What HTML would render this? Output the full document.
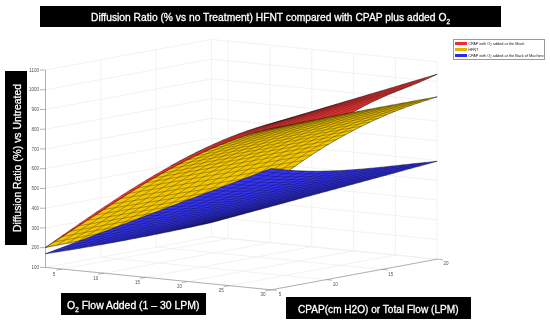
<!DOCTYPE html>
<html><head><meta charset="utf-8"><style>
html,body{margin:0;padding:0;background:#fff;width:550px;height:326px;overflow:hidden;position:relative}
.tk{font-family:"Liberation Sans",sans-serif;font-size:4.5px;fill:#505050}
.box{position:absolute;background:#000;color:#fff;font-family:"Liberation Sans",sans-serif;white-space:nowrap}
#title{left:39.7px;top:5.6px;width:461.5px;height:21.7px}
#ylab{left:5px;top:71px;width:22px;height:174px}
#xlab{left:61px;top:293px;width:145px;height:22px}
#clab{left:286px;top:297px;width:185px;height:22px}
.box span{position:absolute;font-size:11.3px;line-height:1;-webkit-text-stroke:0.3px #fff}
#legend{position:absolute;left:452.6px;top:39.2px;width:92.1px;height:20.4px;border:0.6px solid #9a9a9a;background:#fff;box-sizing:border-box}
.sw{position:absolute;left:1.2px;width:12.6px;height:3.3px}
.lt{position:absolute;left:14.6px;font-family:"Liberation Sans",sans-serif;font-size:3.85px;color:#222;white-space:nowrap;line-height:1}
.lt sub{font-size:2.6px;vertical-align:-0.8px}
</style></head><body>
<svg width="550" height="326" viewBox="0 0 550 326" style="position:absolute;left:0;top:0">
<g><line x1="45.50" y1="267.40" x2="211.50" y2="236.80" stroke="#efefef" stroke-width="0.8"/>
<line x1="211.50" y1="236.80" x2="437.20" y2="259.20" stroke="#efefef" stroke-width="0.8"/>
<line x1="45.50" y1="247.66" x2="211.50" y2="217.06" stroke="#efefef" stroke-width="0.8"/>
<line x1="211.50" y1="217.06" x2="437.20" y2="239.46" stroke="#efefef" stroke-width="0.8"/>
<line x1="45.50" y1="227.92" x2="211.50" y2="197.32" stroke="#efefef" stroke-width="0.8"/>
<line x1="211.50" y1="197.32" x2="437.20" y2="219.72" stroke="#efefef" stroke-width="0.8"/>
<line x1="45.50" y1="208.18" x2="211.50" y2="177.58" stroke="#efefef" stroke-width="0.8"/>
<line x1="211.50" y1="177.58" x2="437.20" y2="199.98" stroke="#efefef" stroke-width="0.8"/>
<line x1="45.50" y1="188.44" x2="211.50" y2="157.84" stroke="#efefef" stroke-width="0.8"/>
<line x1="211.50" y1="157.84" x2="437.20" y2="180.24" stroke="#efefef" stroke-width="0.8"/>
<line x1="45.50" y1="168.70" x2="211.50" y2="138.10" stroke="#efefef" stroke-width="0.8"/>
<line x1="211.50" y1="138.10" x2="437.20" y2="160.50" stroke="#efefef" stroke-width="0.8"/>
<line x1="45.50" y1="148.96" x2="211.50" y2="118.36" stroke="#efefef" stroke-width="0.8"/>
<line x1="211.50" y1="118.36" x2="437.20" y2="140.76" stroke="#efefef" stroke-width="0.8"/>
<line x1="45.50" y1="129.22" x2="211.50" y2="98.62" stroke="#efefef" stroke-width="0.8"/>
<line x1="211.50" y1="98.62" x2="437.20" y2="121.02" stroke="#efefef" stroke-width="0.8"/>
<line x1="45.50" y1="109.48" x2="211.50" y2="78.88" stroke="#efefef" stroke-width="0.8"/>
<line x1="211.50" y1="78.88" x2="437.20" y2="101.28" stroke="#efefef" stroke-width="0.8"/>
<line x1="45.50" y1="89.74" x2="211.50" y2="59.14" stroke="#efefef" stroke-width="0.8"/>
<line x1="211.50" y1="59.14" x2="437.20" y2="81.54" stroke="#efefef" stroke-width="0.8"/>
<line x1="45.50" y1="70.00" x2="211.50" y2="39.40" stroke="#efefef" stroke-width="0.8"/>
<line x1="211.50" y1="39.40" x2="437.20" y2="61.80" stroke="#efefef" stroke-width="0.8"/>
<line x1="45.50" y1="267.40" x2="45.50" y2="70.00" stroke="#efefef" stroke-width="0.8"/>
<line x1="45.50" y1="267.40" x2="271.20" y2="289.80" stroke="#efefef" stroke-width="0.8"/>
<line x1="100.83" y1="257.20" x2="100.83" y2="59.80" stroke="#efefef" stroke-width="0.8"/>
<line x1="100.83" y1="257.20" x2="326.53" y2="279.60" stroke="#efefef" stroke-width="0.8"/>
<line x1="156.17" y1="247.00" x2="156.17" y2="49.60" stroke="#efefef" stroke-width="0.8"/>
<line x1="156.17" y1="247.00" x2="381.87" y2="269.40" stroke="#efefef" stroke-width="0.8"/>
<line x1="211.50" y1="236.80" x2="211.50" y2="39.40" stroke="#efefef" stroke-width="0.8"/>
<line x1="211.50" y1="236.80" x2="437.20" y2="259.20" stroke="#efefef" stroke-width="0.8"/>
<line x1="228.22" y1="238.46" x2="228.22" y2="41.06" stroke="#efefef" stroke-width="0.8"/>
<line x1="62.22" y1="269.06" x2="228.22" y2="238.46" stroke="#efefef" stroke-width="0.8"/>
<line x1="270.01" y1="242.61" x2="270.01" y2="45.21" stroke="#efefef" stroke-width="0.8"/>
<line x1="104.01" y1="273.21" x2="270.01" y2="242.61" stroke="#efefef" stroke-width="0.8"/>
<line x1="311.81" y1="246.76" x2="311.81" y2="49.36" stroke="#efefef" stroke-width="0.8"/>
<line x1="145.81" y1="277.36" x2="311.81" y2="246.76" stroke="#efefef" stroke-width="0.8"/>
<line x1="353.61" y1="250.90" x2="353.61" y2="53.50" stroke="#efefef" stroke-width="0.8"/>
<line x1="187.61" y1="281.50" x2="353.61" y2="250.90" stroke="#efefef" stroke-width="0.8"/>
<line x1="395.40" y1="255.05" x2="395.40" y2="57.65" stroke="#efefef" stroke-width="0.8"/>
<line x1="229.40" y1="285.65" x2="395.40" y2="255.05" stroke="#efefef" stroke-width="0.8"/>
<line x1="437.20" y1="259.20" x2="437.20" y2="61.80" stroke="#efefef" stroke-width="0.8"/>
<line x1="271.20" y1="289.80" x2="437.20" y2="259.20" stroke="#efefef" stroke-width="0.8"/></g>
<g><line x1="45.50" y1="267.40" x2="45.50" y2="70.00" stroke="#8c8c8c" stroke-width="0.65"/>
<line x1="45.50" y1="267.40" x2="271.20" y2="289.80" stroke="#8c8c8c" stroke-width="0.65"/>
<line x1="271.20" y1="289.80" x2="437.20" y2="259.20" stroke="#8c8c8c" stroke-width="0.65"/>
<line x1="45.50" y1="267.40" x2="40.00" y2="267.40" stroke="#8c8c8c" stroke-width="0.65"/>
<text x="39.00" y="269.00" class="tk" text-anchor="end">100</text>
<line x1="45.50" y1="247.66" x2="40.00" y2="247.66" stroke="#8c8c8c" stroke-width="0.65"/>
<text x="39.00" y="249.26" class="tk" text-anchor="end">200</text>
<line x1="45.50" y1="227.92" x2="40.00" y2="227.92" stroke="#8c8c8c" stroke-width="0.65"/>
<text x="39.00" y="229.52" class="tk" text-anchor="end">300</text>
<line x1="45.50" y1="208.18" x2="40.00" y2="208.18" stroke="#8c8c8c" stroke-width="0.65"/>
<text x="39.00" y="209.78" class="tk" text-anchor="end">400</text>
<line x1="45.50" y1="188.44" x2="40.00" y2="188.44" stroke="#8c8c8c" stroke-width="0.65"/>
<text x="39.00" y="190.04" class="tk" text-anchor="end">500</text>
<line x1="45.50" y1="168.70" x2="40.00" y2="168.70" stroke="#8c8c8c" stroke-width="0.65"/>
<text x="39.00" y="170.30" class="tk" text-anchor="end">600</text>
<line x1="45.50" y1="148.96" x2="40.00" y2="148.96" stroke="#8c8c8c" stroke-width="0.65"/>
<text x="39.00" y="150.56" class="tk" text-anchor="end">700</text>
<line x1="45.50" y1="129.22" x2="40.00" y2="129.22" stroke="#8c8c8c" stroke-width="0.65"/>
<text x="39.00" y="130.82" class="tk" text-anchor="end">800</text>
<line x1="45.50" y1="109.48" x2="40.00" y2="109.48" stroke="#8c8c8c" stroke-width="0.65"/>
<text x="39.00" y="111.08" class="tk" text-anchor="end">900</text>
<line x1="45.50" y1="89.74" x2="40.00" y2="89.74" stroke="#8c8c8c" stroke-width="0.65"/>
<text x="39.00" y="91.34" class="tk" text-anchor="end">1000</text>
<line x1="45.50" y1="70.00" x2="40.00" y2="70.00" stroke="#8c8c8c" stroke-width="0.65"/>
<text x="39.00" y="71.60" class="tk" text-anchor="end">1100</text>
<line x1="62.22" y1="269.06" x2="56.41" y2="270.13" stroke="#8c8c8c" stroke-width="0.65"/>
<text x="54.02" y="275.66" class="tk" text-anchor="middle">5</text>
<line x1="104.01" y1="273.21" x2="98.20" y2="274.28" stroke="#8c8c8c" stroke-width="0.65"/>
<text x="95.81" y="279.81" class="tk" text-anchor="middle">10</text>
<line x1="145.81" y1="277.36" x2="140.00" y2="278.43" stroke="#8c8c8c" stroke-width="0.65"/>
<text x="137.61" y="283.96" class="tk" text-anchor="middle">15</text>
<line x1="187.61" y1="281.50" x2="181.80" y2="282.57" stroke="#8c8c8c" stroke-width="0.65"/>
<text x="179.41" y="288.10" class="tk" text-anchor="middle">20</text>
<line x1="229.40" y1="285.65" x2="223.59" y2="286.72" stroke="#8c8c8c" stroke-width="0.65"/>
<text x="221.20" y="292.25" class="tk" text-anchor="middle">25</text>
<line x1="271.20" y1="289.80" x2="265.39" y2="290.87" stroke="#8c8c8c" stroke-width="0.65"/>
<text x="263.00" y="296.40" class="tk" text-anchor="middle">30</text>
<line x1="271.20" y1="289.80" x2="276.84" y2="290.36" stroke="#8c8c8c" stroke-width="0.65"/>
<text x="280.00" y="295.90" class="tk" text-anchor="middle">5</text>
<line x1="326.53" y1="279.60" x2="332.18" y2="280.16" stroke="#8c8c8c" stroke-width="0.65"/>
<text x="335.33" y="285.70" class="tk" text-anchor="middle">10</text>
<line x1="381.87" y1="269.40" x2="387.51" y2="269.96" stroke="#8c8c8c" stroke-width="0.65"/>
<text x="390.67" y="275.50" class="tk" text-anchor="middle">15</text>
<line x1="437.20" y1="259.20" x2="442.84" y2="259.76" stroke="#8c8c8c" stroke-width="0.65"/>
<text x="446.00" y="265.30" class="tk" text-anchor="middle">20</text></g>
<g><polygon points="45.50,247.40 53.86,241.48 62.22,235.59 70.58,229.74 78.94,223.94 87.30,218.19 95.66,212.51 104.01,206.91 112.37,201.38 120.73,195.95 129.09,190.62 137.45,185.40 145.81,180.29 154.17,175.31 162.53,170.46 170.89,165.76 179.25,161.20 187.61,156.81 195.97,152.59 204.33,148.54 212.69,144.68 221.04,141.01 229.40,137.55 237.76,134.29 246.12,131.26 254.48,128.46 262.84,125.89 271.20,123.57 282.27,120.28 293.33,116.99 304.40,113.70 315.47,110.41 326.53,107.12 337.60,103.83 348.67,100.54 359.73,97.25 370.80,93.96 381.87,90.67 392.93,87.38 404.00,84.09 415.07,80.80 426.13,77.51 437.20,74.22 428.84,78.08 420.48,81.75 412.12,85.22 403.76,88.49 395.40,91.75 387.04,95.21 378.69,98.88 370.33,102.87 361.97,107.16 353.61,111.65 345.25,116.28 336.89,120.94 328.53,125.65 320.17,130.50 311.81,135.48 303.45,140.58 295.09,145.81 286.73,151.14 278.37,156.57 270.01,162.10 261.66,167.70 253.30,173.38 244.94,179.13 236.58,184.93 228.22,190.78 219.86,196.67 211.50,202.59 200.43,205.58 189.37,208.57 178.30,211.55 167.23,214.54 156.17,217.53 145.10,220.52 134.03,223.50 122.97,226.49 111.90,229.48 100.83,232.47 89.77,235.45 78.70,238.44 67.63,241.43 56.57,244.42" fill="#f03838"/>
<path d="M45.50,247.40 L56.57,244.42 L67.63,241.43 L78.70,238.44 L89.77,235.45 L100.83,232.47 L111.90,229.48 L122.97,226.49 L134.03,223.50 L145.10,220.52 L156.17,217.53 L167.23,214.54 L178.30,211.55 L189.37,208.57 L200.43,205.58 L211.50,202.59 M53.86,241.48 L64.93,238.49 L75.99,235.51 L87.06,232.52 L98.13,229.53 L109.19,226.54 L120.26,223.56 L131.33,220.57 L142.39,217.58 L153.46,214.59 L164.53,211.61 L175.59,208.62 L186.66,205.63 L197.73,202.64 L208.79,199.66 L219.86,196.67 M62.22,235.59 L73.29,232.60 L84.35,229.62 L95.42,226.63 L106.49,223.64 L117.55,220.65 L128.62,217.67 L139.69,214.68 L150.75,211.69 L161.82,208.70 L172.89,205.72 L183.95,202.73 L195.02,199.74 L206.09,196.75 L217.15,193.77 L228.22,190.78 M70.58,229.74 L81.64,226.75 L92.71,223.77 L103.78,220.78 L114.84,217.79 L125.91,214.80 L136.98,211.82 L148.04,208.83 L159.11,205.84 L170.18,202.85 L181.24,199.87 L192.31,196.88 L203.38,193.89 L214.44,190.90 L225.51,187.92 L236.58,184.93 M78.94,223.94 L90.00,220.95 L101.07,217.96 L112.14,214.98 L123.20,211.99 L134.27,209.00 L145.34,206.01 L156.40,203.03 L167.47,200.04 L178.54,197.05 L189.60,194.06 L200.67,191.08 L211.74,188.09 L222.80,185.10 L233.87,182.11 L244.94,179.13 M87.30,218.19 L98.36,215.21 L109.43,212.22 L120.50,209.23 L131.56,206.24 L142.63,203.26 L153.70,200.27 L164.76,197.28 L175.83,194.29 L186.90,191.31 L197.96,188.32 L209.03,185.33 L220.10,182.34 L231.16,179.36 L242.23,176.37 L253.30,173.38 M95.66,212.51 L106.72,209.53 L117.79,206.54 L128.86,203.55 L139.92,200.56 L150.99,197.58 L162.06,194.59 L173.12,191.60 L184.19,188.61 L195.26,185.63 L206.32,182.64 L217.39,179.65 L228.46,176.66 L239.52,173.68 L250.59,170.69 L261.66,167.70 M104.01,206.91 L115.08,203.92 L126.15,200.93 L137.21,197.95 L148.28,194.96 L159.35,191.97 L170.41,188.98 L181.48,186.00 L192.55,183.01 L203.61,180.02 L214.68,177.03 L225.75,174.05 L236.81,171.06 L247.88,168.07 L258.95,165.08 L270.01,162.10 M112.37,201.38 L123.44,198.40 L134.51,195.41 L145.57,192.42 L156.64,189.43 L167.71,186.45 L178.77,183.46 L189.84,180.47 L200.91,177.48 L211.97,174.50 L223.04,171.51 L234.11,168.52 L245.17,165.53 L256.24,162.55 L267.31,159.56 L278.37,156.57 M120.73,195.95 L131.80,192.97 L142.87,189.98 L153.93,186.99 L165.00,184.00 L176.07,181.02 L187.13,178.03 L198.20,175.04 L209.27,172.05 L220.33,169.07 L231.40,166.08 L242.47,163.09 L253.53,160.10 L264.60,157.11 L275.67,154.13 L286.73,151.14 M129.09,190.62 L140.16,187.63 L151.23,184.65 L162.29,181.66 L173.36,178.67 L184.43,175.68 L195.49,172.70 L206.56,169.71 L217.63,166.72 L228.69,163.73 L239.76,160.75 L250.83,157.76 L261.89,154.77 L272.96,151.78 L284.03,148.80 L295.09,145.81 M137.45,185.40 L148.52,182.41 L159.59,179.42 L170.65,176.43 L181.72,173.45 L192.79,170.46 L203.85,167.47 L214.92,164.48 L225.99,161.50 L237.05,158.51 L248.12,155.52 L259.19,152.53 L270.25,149.55 L281.32,146.56 L292.39,143.57 L303.45,140.58 M145.81,180.29 L156.88,177.30 L167.94,174.31 L179.01,171.33 L190.08,168.34 L201.14,165.35 L212.21,162.36 L223.28,159.38 L234.34,156.39 L245.41,153.40 L256.48,150.41 L267.54,147.43 L278.61,144.44 L289.68,141.45 L300.74,138.46 L311.81,135.48 M154.17,175.31 L165.24,172.32 L176.30,169.33 L187.37,166.35 L198.44,163.36 L209.50,160.37 L220.57,157.38 L231.64,154.40 L242.70,151.41 L253.77,148.42 L264.84,145.43 L275.90,142.45 L286.97,139.46 L298.04,136.47 L309.10,133.48 L320.17,130.50 M162.53,170.46 L173.60,167.47 L184.66,164.49 L195.73,161.50 L206.80,158.51 L217.86,155.52 L228.93,152.54 L240.00,149.55 L251.06,146.56 L262.13,143.57 L273.20,140.59 L284.26,137.60 L295.33,134.61 L306.40,131.62 L317.46,128.64 L328.53,125.65 M170.89,165.76 L181.96,162.77 L193.02,159.78 L204.09,156.79 L215.16,153.81 L226.22,150.82 L237.29,147.83 L248.36,144.84 L259.42,141.86 L270.49,138.87 L281.56,135.88 L292.62,132.89 L303.69,129.91 L314.76,126.92 L325.82,123.93 L336.89,120.94 M179.25,161.20 L190.31,158.21 L201.38,155.21 L212.45,152.22 L223.51,149.22 L234.58,146.23 L245.65,143.23 L256.71,140.24 L267.78,137.24 L278.85,134.25 L289.91,131.25 L300.98,128.26 L312.05,125.26 L323.11,122.27 L334.18,119.27 L345.25,116.28 M187.61,156.81 L198.67,153.80 L209.74,150.79 L220.81,147.78 L231.87,144.77 L242.94,141.76 L254.01,138.75 L265.07,135.74 L276.14,132.73 L287.21,129.72 L298.27,126.71 L309.34,123.70 L320.41,120.69 L331.47,117.67 L342.54,114.66 L353.61,111.65 M195.97,152.59 L207.03,149.56 L218.10,146.53 L229.17,143.50 L240.23,140.47 L251.30,137.44 L262.37,134.42 L273.43,131.39 L284.50,128.36 L295.57,125.33 L306.63,122.30 L317.70,119.27 L328.77,116.24 L339.83,113.22 L350.90,110.19 L361.97,107.16 M204.33,148.54 L215.39,145.50 L226.46,142.45 L237.53,139.41 L248.59,136.36 L259.66,133.32 L270.73,130.27 L281.79,127.23 L292.86,124.18 L303.93,121.14 L314.99,118.10 L326.06,115.05 L337.13,112.01 L348.19,108.96 L359.26,105.92 L370.33,102.87 M212.69,144.68 L223.75,141.62 L234.82,138.57 L245.89,135.52 L256.95,132.47 L268.02,129.41 L279.09,126.36 L290.15,123.31 L301.22,120.25 L312.29,117.20 L323.35,114.15 L334.42,111.10 L345.49,108.04 L356.55,104.99 L367.62,101.94 L378.69,98.88 M221.04,141.01 L232.11,137.96 L243.18,134.90 L254.24,131.85 L265.31,128.80 L276.38,125.74 L287.44,122.69 L298.51,119.64 L309.58,116.58 L320.64,113.53 L331.71,110.48 L342.78,107.42 L353.84,104.37 L364.91,101.32 L375.98,98.26 L387.04,95.21 M229.40,137.55 L240.47,134.49 L251.54,131.44 L262.60,128.39 L273.67,125.33 L284.74,122.28 L295.80,119.23 L306.87,116.17 L317.94,113.12 L329.00,110.07 L340.07,107.01 L351.14,103.96 L362.20,100.91 L373.27,97.85 L384.34,94.80 L395.40,91.75 M237.76,134.29 L248.83,131.24 L259.90,128.19 L270.96,125.13 L282.03,122.08 L293.10,119.03 L304.16,115.97 L315.23,112.92 L326.30,109.87 L337.36,106.81 L348.43,103.76 L359.50,100.71 L370.56,97.65 L381.63,94.60 L392.70,91.55 L403.76,88.49 M246.12,131.26 L257.19,128.19 L268.26,125.12 L279.32,122.05 L290.39,118.98 L301.46,115.91 L312.52,112.85 L323.59,109.78 L334.66,106.71 L345.72,103.64 L356.79,100.57 L367.86,97.50 L378.92,94.43 L389.99,91.36 L401.06,88.29 L412.12,85.22 M254.48,128.46 L265.55,125.34 L276.61,122.23 L287.68,119.11 L298.75,116.00 L309.81,112.89 L320.88,109.77 L331.95,106.66 L343.01,103.54 L354.08,100.43 L365.15,97.32 L376.21,94.20 L387.28,91.09 L398.35,87.97 L409.41,84.86 L420.48,81.75 M262.84,125.89 L273.91,122.70 L284.97,119.51 L296.04,116.33 L307.11,113.14 L318.17,109.95 L329.24,106.76 L340.31,103.58 L351.37,100.39 L362.44,97.20 L373.51,94.01 L384.57,90.83 L395.64,87.64 L406.71,84.45 L417.77,81.26 L428.84,78.08 M271.20,123.57 L282.27,120.28 L293.33,116.99 L304.40,113.70 L315.47,110.41 L326.53,107.12 L337.60,103.83 L348.67,100.54 L359.73,97.25 L370.80,93.96 L381.87,90.67 L392.93,87.38 L404.00,84.09 L415.07,80.80 L426.13,77.51 L437.20,74.22 M45.50,247.40 L53.86,241.48 L62.22,235.59 L70.58,229.74 L78.94,223.94 L87.30,218.19 L95.66,212.51 L104.01,206.91 L112.37,201.38 L120.73,195.95 L129.09,190.62 L137.45,185.40 L145.81,180.29 L154.17,175.31 L162.53,170.46 L170.89,165.76 L179.25,161.20 L187.61,156.81 L195.97,152.59 L204.33,148.54 L212.69,144.68 L221.04,141.01 L229.40,137.55 L237.76,134.29 L246.12,131.26 L254.48,128.46 L262.84,125.89 L271.20,123.57 M56.57,244.42 L64.93,238.49 L73.29,232.60 L81.64,226.75 L90.00,220.95 L98.36,215.21 L106.72,209.53 L115.08,203.92 L123.44,198.40 L131.80,192.97 L140.16,187.63 L148.52,182.41 L156.88,177.30 L165.24,172.32 L173.60,167.47 L181.96,162.77 L190.31,158.21 L198.67,153.80 L207.03,149.56 L215.39,145.50 L223.75,141.62 L232.11,137.96 L240.47,134.49 L248.83,131.24 L257.19,128.19 L265.55,125.34 L273.91,122.70 L282.27,120.28 M67.63,241.43 L75.99,235.51 L84.35,229.62 L92.71,223.77 L101.07,217.96 L109.43,212.22 L117.79,206.54 L126.15,200.93 L134.51,195.41 L142.87,189.98 L151.23,184.65 L159.59,179.42 L167.94,174.31 L176.30,169.33 L184.66,164.49 L193.02,159.78 L201.38,155.21 L209.74,150.79 L218.10,146.53 L226.46,142.45 L234.82,138.57 L243.18,134.90 L251.54,131.44 L259.90,128.19 L268.26,125.12 L276.61,122.23 L284.97,119.51 L293.33,116.99 M78.70,238.44 L87.06,232.52 L95.42,226.63 L103.78,220.78 L112.14,214.98 L120.50,209.23 L128.86,203.55 L137.21,197.95 L145.57,192.42 L153.93,186.99 L162.29,181.66 L170.65,176.43 L179.01,171.33 L187.37,166.35 L195.73,161.50 L204.09,156.79 L212.45,152.22 L220.81,147.78 L229.17,143.50 L237.53,139.41 L245.89,135.52 L254.24,131.85 L262.60,128.39 L270.96,125.13 L279.32,122.05 L287.68,119.11 L296.04,116.33 L304.40,113.70 M89.77,235.45 L98.13,229.53 L106.49,223.64 L114.84,217.79 L123.20,211.99 L131.56,206.24 L139.92,200.56 L148.28,194.96 L156.64,189.43 L165.00,184.00 L173.36,178.67 L181.72,173.45 L190.08,168.34 L198.44,163.36 L206.80,158.51 L215.16,153.81 L223.51,149.22 L231.87,144.77 L240.23,140.47 L248.59,136.36 L256.95,132.47 L265.31,128.80 L273.67,125.33 L282.03,122.08 L290.39,118.98 L298.75,116.00 L307.11,113.14 L315.47,110.41 M100.83,232.47 L109.19,226.54 L117.55,220.65 L125.91,214.80 L134.27,209.00 L142.63,203.26 L150.99,197.58 L159.35,191.97 L167.71,186.45 L176.07,181.02 L184.43,175.68 L192.79,170.46 L201.14,165.35 L209.50,160.37 L217.86,155.52 L226.22,150.82 L234.58,146.23 L242.94,141.76 L251.30,137.44 L259.66,133.32 L268.02,129.41 L276.38,125.74 L284.74,122.28 L293.10,119.03 L301.46,115.91 L309.81,112.89 L318.17,109.95 L326.53,107.12 M111.90,229.48 L120.26,223.56 L128.62,217.67 L136.98,211.82 L145.34,206.01 L153.70,200.27 L162.06,194.59 L170.41,188.98 L178.77,183.46 L187.13,178.03 L195.49,172.70 L203.85,167.47 L212.21,162.36 L220.57,157.38 L228.93,152.54 L237.29,147.83 L245.65,143.23 L254.01,138.75 L262.37,134.42 L270.73,130.27 L279.09,126.36 L287.44,122.69 L295.80,119.23 L304.16,115.97 L312.52,112.85 L320.88,109.77 L329.24,106.76 L337.60,103.83 M122.97,226.49 L131.33,220.57 L139.69,214.68 L148.04,208.83 L156.40,203.03 L164.76,197.28 L173.12,191.60 L181.48,186.00 L189.84,180.47 L198.20,175.04 L206.56,169.71 L214.92,164.48 L223.28,159.38 L231.64,154.40 L240.00,149.55 L248.36,144.84 L256.71,140.24 L265.07,135.74 L273.43,131.39 L281.79,127.23 L290.15,123.31 L298.51,119.64 L306.87,116.17 L315.23,112.92 L323.59,109.78 L331.95,106.66 L340.31,103.58 L348.67,100.54 M134.03,223.50 L142.39,217.58 L150.75,211.69 L159.11,205.84 L167.47,200.04 L175.83,194.29 L184.19,188.61 L192.55,183.01 L200.91,177.48 L209.27,172.05 L217.63,166.72 L225.99,161.50 L234.34,156.39 L242.70,151.41 L251.06,146.56 L259.42,141.86 L267.78,137.24 L276.14,132.73 L284.50,128.36 L292.86,124.18 L301.22,120.25 L309.58,116.58 L317.94,113.12 L326.30,109.87 L334.66,106.71 L343.01,103.54 L351.37,100.39 L359.73,97.25 M145.10,220.52 L153.46,214.59 L161.82,208.70 L170.18,202.85 L178.54,197.05 L186.90,191.31 L195.26,185.63 L203.61,180.02 L211.97,174.50 L220.33,169.07 L228.69,163.73 L237.05,158.51 L245.41,153.40 L253.77,148.42 L262.13,143.57 L270.49,138.87 L278.85,134.25 L287.21,129.72 L295.57,125.33 L303.93,121.14 L312.29,117.20 L320.64,113.53 L329.00,110.07 L337.36,106.81 L345.72,103.64 L354.08,100.43 L362.44,97.20 L370.80,93.96 M156.17,217.53 L164.53,211.61 L172.89,205.72 L181.24,199.87 L189.60,194.06 L197.96,188.32 L206.32,182.64 L214.68,177.03 L223.04,171.51 L231.40,166.08 L239.76,160.75 L248.12,155.52 L256.48,150.41 L264.84,145.43 L273.20,140.59 L281.56,135.88 L289.91,131.25 L298.27,126.71 L306.63,122.30 L314.99,118.10 L323.35,114.15 L331.71,110.48 L340.07,107.01 L348.43,103.76 L356.79,100.57 L365.15,97.32 L373.51,94.01 L381.87,90.67 M167.23,214.54 L175.59,208.62 L183.95,202.73 L192.31,196.88 L200.67,191.08 L209.03,185.33 L217.39,179.65 L225.75,174.05 L234.11,168.52 L242.47,163.09 L250.83,157.76 L259.19,152.53 L267.54,147.43 L275.90,142.45 L284.26,137.60 L292.62,132.89 L300.98,128.26 L309.34,123.70 L317.70,119.27 L326.06,115.05 L334.42,111.10 L342.78,107.42 L351.14,103.96 L359.50,100.71 L367.86,97.50 L376.21,94.20 L384.57,90.83 L392.93,87.38 M178.30,211.55 L186.66,205.63 L195.02,199.74 L203.38,193.89 L211.74,188.09 L220.10,182.34 L228.46,176.66 L236.81,171.06 L245.17,165.53 L253.53,160.10 L261.89,154.77 L270.25,149.55 L278.61,144.44 L286.97,139.46 L295.33,134.61 L303.69,129.91 L312.05,125.26 L320.41,120.69 L328.77,116.24 L337.13,112.01 L345.49,108.04 L353.84,104.37 L362.20,100.91 L370.56,97.65 L378.92,94.43 L387.28,91.09 L395.64,87.64 L404.00,84.09 M189.37,208.57 L197.73,202.64 L206.09,196.75 L214.44,190.90 L222.80,185.10 L231.16,179.36 L239.52,173.68 L247.88,168.07 L256.24,162.55 L264.60,157.11 L272.96,151.78 L281.32,146.56 L289.68,141.45 L298.04,136.47 L306.40,131.62 L314.76,126.92 L323.11,122.27 L331.47,117.67 L339.83,113.22 L348.19,108.96 L356.55,104.99 L364.91,101.32 L373.27,97.85 L381.63,94.60 L389.99,91.36 L398.35,87.97 L406.71,84.45 L415.07,80.80 M200.43,205.58 L208.79,199.66 L217.15,193.77 L225.51,187.92 L233.87,182.11 L242.23,176.37 L250.59,170.69 L258.95,165.08 L267.31,159.56 L275.67,154.13 L284.03,148.80 L292.39,143.57 L300.74,138.46 L309.10,133.48 L317.46,128.64 L325.82,123.93 L334.18,119.27 L342.54,114.66 L350.90,110.19 L359.26,105.92 L367.62,101.94 L375.98,98.26 L384.34,94.80 L392.70,91.55 L401.06,88.29 L409.41,84.86 L417.77,81.26 L426.13,77.51 M211.50,202.59 L219.86,196.67 L228.22,190.78 L236.58,184.93 L244.94,179.13 L253.30,173.38 L261.66,167.70 L270.01,162.10 L278.37,156.57 L286.73,151.14 L295.09,145.81 L303.45,140.58 L311.81,135.48 L320.17,130.50 L328.53,125.65 L336.89,120.94 L345.25,116.28 L353.61,111.65 L361.97,107.16 L370.33,102.87 L378.69,98.88 L387.04,95.21 L395.40,91.75 L403.76,88.49 L412.12,85.22 L420.48,81.75 L428.84,78.08 L437.20,74.22" fill="none" stroke="#000" stroke-width="0.35" stroke-opacity="0.55" stroke-linejoin="round"/>
<path d="M45.50,247.40 L49.68,244.44 L53.86,241.48 L58.04,238.53 L62.22,235.59 L66.40,232.66 L70.58,229.74 L74.76,226.83 L78.94,223.94 L83.12,221.06 L87.30,218.19 L91.48,215.35 L95.66,212.51 L99.84,209.70 L104.01,206.91 L108.19,204.14 L112.37,201.38 L116.55,198.66 L120.73,195.95 L124.91,193.27 L129.09,190.62 L133.27,187.99 L137.45,185.40 L141.63,182.83 L145.81,180.29 L149.99,177.78 L154.17,175.31 L158.35,172.87 L162.53,170.46 L166.71,168.09 L170.89,165.76" fill="none" stroke="#000" stroke-width="0.3" stroke-opacity="0.25"/><path d="M170.89,165.76 L175.07,163.46 L179.25,161.20 L183.43,158.99 L187.61,156.81 L191.79,154.68 L195.97,152.59 L200.15,150.54 L204.33,148.54 L208.51,146.58 L212.69,144.68 L216.86,142.82 L221.04,141.01 L225.22,139.25 L229.40,137.55 L233.58,135.89 L237.76,134.29 L241.94,132.75 L246.12,131.26 L250.30,129.83 L254.48,128.46 L258.66,127.14 L262.84,125.89 L267.02,124.70 L271.20,123.57 L282.27,120.28 L293.33,116.99 L304.40,113.70 L315.47,110.41 L326.53,107.12 L337.60,103.83 L348.67,100.54 L359.73,97.25 L370.80,93.96 L381.87,90.67 L392.93,87.38 L404.00,84.09 L415.07,80.80 L426.13,77.51 L437.20,74.22 L437.20,74.22 L433.02,76.17 L428.84,78.08 L424.66,79.93 L420.48,81.75 L416.30,83.51 L412.12,85.22 L407.94,86.88 L403.76,88.49 L399.58,90.09 L395.40,91.75 L391.22,93.45 L387.04,95.21 L382.86,97.02 L378.69,98.88 L374.51,100.84 L370.33,102.87 L366.15,104.98 L361.97,107.16 L357.79,109.38 L353.61,111.65 L349.43,113.95 L345.25,116.28 L341.07,118.61 L336.89,120.94" fill="none" stroke="#000" stroke-width="0.5" stroke-opacity="0.7" stroke-linejoin="round"/>
<polygon points="45.50,247.40 53.86,242.02 62.22,236.63 70.58,231.22 78.94,225.79 87.30,220.35 95.66,214.91 104.01,209.46 112.37,204.03 120.73,198.63 129.09,193.27 137.45,187.99 145.81,182.80 154.17,177.91 162.53,173.17 170.89,168.58 179.25,164.15 187.61,159.87 195.97,155.78 204.33,151.87 212.69,148.16 221.04,144.66 229.40,141.39 237.76,138.34 246.12,135.54 254.48,132.99 262.84,130.71 271.20,128.70 282.27,126.45 293.33,124.21 304.40,121.98 315.47,119.76 326.53,117.57 337.60,115.39 348.67,113.24 359.73,111.12 370.80,109.02 381.87,106.95 392.93,104.90 404.00,102.86 415.07,100.85 426.13,98.84 437.20,96.84 428.84,99.44 420.48,102.15 412.12,104.99 403.76,108.00 395.40,111.20 387.04,114.60 378.69,118.20 370.33,122.02 361.97,126.05 353.61,130.30 345.25,134.77 336.89,139.46 328.53,144.37 320.17,149.50 311.81,154.85 303.45,160.42 295.09,166.21 286.73,172.19 278.37,177.87 270.01,183.16 261.66,188.14 253.30,192.88 244.94,197.47 236.58,201.99 228.22,206.51 219.86,211.11 211.50,215.88 200.43,217.98 189.37,220.08 178.30,222.18 167.23,224.28 156.17,226.38 145.10,228.49 134.03,230.59 122.97,232.69 111.90,234.79 100.83,236.89 89.77,239.00 78.70,241.10 67.63,243.20 56.57,245.30" fill="#f2c600"/>
<path d="M45.50,247.40 L56.57,245.30 L67.63,243.20 L78.70,241.10 L89.77,239.00 L100.83,236.89 L111.90,234.79 L122.97,232.69 L134.03,230.59 L145.10,228.49 L156.17,226.38 L167.23,224.28 L178.30,222.18 L189.37,220.08 L200.43,217.98 L211.50,215.88 M53.86,242.02 L64.93,239.96 L75.99,237.89 L87.06,235.83 L98.13,233.76 L109.19,231.70 L120.26,229.64 L131.33,227.58 L142.39,225.51 L153.46,223.45 L164.53,221.40 L175.59,219.34 L186.66,217.28 L197.73,215.22 L208.79,213.17 L219.86,211.11 M62.22,236.63 L73.29,234.61 L84.35,232.60 L95.42,230.58 L106.49,228.56 L117.55,226.55 L128.62,224.54 L139.69,222.53 L150.75,220.52 L161.82,218.51 L172.89,216.51 L183.95,214.51 L195.02,212.51 L206.09,210.51 L217.15,208.51 L228.22,206.51 M70.58,231.22 L81.64,229.26 L92.71,227.30 L103.78,225.33 L114.84,223.38 L125.91,221.42 L136.98,219.46 L148.04,217.51 L159.11,215.56 L170.18,213.62 L181.24,211.67 L192.31,209.73 L203.38,207.80 L214.44,205.86 L225.51,203.92 L236.58,201.99 M78.94,225.79 L90.00,223.89 L101.07,221.98 L112.14,220.08 L123.20,218.18 L134.27,216.28 L145.34,214.38 L156.40,212.49 L167.47,210.60 L178.54,208.72 L189.60,206.84 L200.67,204.96 L211.74,203.08 L222.80,201.21 L233.87,199.34 L244.94,197.47 M87.30,220.35 L98.36,218.50 L109.43,216.65 L120.50,214.79 L131.56,212.95 L142.63,211.10 L153.70,209.26 L164.76,207.42 L175.83,205.59 L186.90,203.77 L197.96,201.94 L209.03,200.13 L220.10,198.31 L231.16,196.50 L242.23,194.69 L253.30,192.88 M95.66,214.91 L106.72,213.09 L117.79,211.28 L128.86,209.47 L139.92,207.67 L150.99,205.87 L162.06,204.07 L173.12,202.28 L184.19,200.50 L195.26,198.72 L206.32,196.95 L217.39,195.18 L228.46,193.41 L239.52,191.65 L250.59,189.89 L261.66,188.14 M104.01,209.46 L115.08,207.67 L126.15,205.89 L137.21,204.11 L148.28,202.33 L159.35,200.56 L170.41,198.79 L181.48,197.03 L192.55,195.28 L203.61,193.53 L214.68,191.79 L225.75,190.06 L236.81,188.33 L247.88,186.60 L258.95,184.88 L270.01,183.16 M112.37,204.03 L123.44,202.25 L134.51,200.47 L145.57,198.69 L156.64,196.92 L167.71,195.16 L178.77,193.40 L189.84,191.65 L200.91,189.90 L211.97,188.17 L223.04,186.44 L234.11,184.72 L245.17,183.00 L256.24,181.29 L267.31,179.58 L278.37,177.87 M120.73,198.63 L131.80,196.82 L142.87,195.02 L153.93,193.22 L165.00,191.43 L176.07,189.64 L187.13,187.86 L198.20,186.09 L209.27,184.33 L220.33,182.58 L231.40,180.83 L242.47,179.09 L253.53,177.36 L264.60,175.64 L275.67,173.91 L286.73,172.19 M129.09,193.27 L140.16,191.42 L151.23,189.58 L162.29,187.73 L173.36,185.89 L184.43,184.06 L195.49,182.24 L206.56,180.43 L217.63,178.62 L228.69,176.83 L239.76,175.04 L250.83,173.27 L261.89,171.50 L272.96,169.73 L284.03,167.97 L295.09,166.21 M137.45,187.99 L148.52,186.10 L159.59,184.22 L170.65,182.34 L181.72,180.46 L192.79,178.59 L203.85,176.73 L214.92,174.89 L225.99,173.05 L237.05,171.22 L248.12,169.40 L259.19,167.59 L270.25,165.79 L281.32,164.00 L292.39,162.21 L303.45,160.42 M145.81,182.80 L156.88,180.89 L167.94,178.97 L179.01,177.06 L190.08,175.15 L201.14,173.26 L212.21,171.37 L223.28,169.50 L234.34,167.63 L245.41,165.78 L256.48,163.94 L267.54,162.11 L278.61,160.29 L289.68,158.47 L300.74,156.66 L311.81,154.85 M154.17,177.91 L165.24,175.95 L176.30,174.00 L187.37,172.06 L198.44,170.12 L209.50,168.19 L220.57,166.27 L231.64,164.37 L242.70,162.47 L253.77,160.59 L264.84,158.72 L275.90,156.86 L286.97,155.01 L298.04,153.17 L309.10,151.33 L320.17,149.50 M162.53,173.17 L173.60,171.19 L184.66,169.21 L195.73,167.23 L206.80,165.26 L217.86,163.31 L228.93,161.36 L240.00,159.43 L251.06,157.51 L262.13,155.60 L273.20,153.70 L284.26,151.82 L295.33,149.95 L306.40,148.08 L317.46,146.23 L328.53,144.37 M170.89,168.58 L181.96,166.57 L193.02,164.57 L204.09,162.56 L215.16,160.57 L226.22,158.59 L237.29,156.62 L248.36,154.66 L259.42,152.72 L270.49,150.80 L281.56,148.88 L292.62,146.98 L303.69,145.09 L314.76,143.21 L325.82,141.33 L336.89,139.46 M179.25,164.15 L190.31,162.11 L201.38,160.09 L212.45,158.06 L223.51,156.05 L234.58,154.05 L245.65,152.06 L256.71,150.09 L267.78,148.13 L278.85,146.19 L289.91,144.26 L300.98,142.34 L312.05,140.44 L323.11,138.54 L334.18,136.66 L345.25,134.77 M187.61,159.87 L198.67,157.82 L209.74,155.78 L220.81,153.74 L231.87,151.71 L242.94,149.69 L254.01,147.69 L265.07,145.70 L276.14,143.73 L287.21,141.78 L298.27,139.84 L309.34,137.91 L320.41,136.00 L331.47,134.09 L342.54,132.20 L353.61,130.30 M195.97,155.78 L207.03,153.71 L218.10,151.65 L229.17,149.60 L240.23,147.56 L251.30,145.53 L262.37,143.51 L273.43,141.51 L284.50,139.53 L295.57,137.57 L306.63,135.62 L317.70,133.69 L328.77,131.77 L339.83,129.86 L350.90,127.95 L361.97,126.05 M204.33,151.87 L215.39,149.79 L226.46,147.72 L237.53,145.66 L248.59,143.60 L259.66,141.56 L270.73,139.53 L281.79,137.53 L292.86,135.54 L303.93,133.56 L314.99,131.61 L326.06,129.67 L337.13,127.75 L348.19,125.83 L359.26,123.92 L370.33,122.02 M212.69,148.16 L223.75,146.07 L234.82,143.99 L245.89,141.91 L256.95,139.85 L268.02,137.80 L279.09,135.76 L290.15,133.75 L301.22,131.75 L312.29,129.77 L323.35,127.81 L334.42,125.87 L345.49,123.94 L356.55,122.02 L367.62,120.11 L378.69,118.20 M221.04,144.66 L232.11,142.56 L243.18,140.47 L254.24,138.38 L265.31,136.30 L276.38,134.24 L287.44,132.20 L298.51,130.18 L309.58,128.17 L320.64,126.19 L331.71,124.22 L342.78,122.28 L353.84,120.34 L364.91,118.42 L375.98,116.51 L387.04,114.60 M229.40,141.39 L240.47,139.27 L251.54,137.17 L262.60,135.07 L273.67,132.98 L284.74,130.91 L295.80,128.85 L306.87,126.82 L317.94,124.81 L329.00,122.82 L340.07,120.85 L351.14,118.89 L362.20,116.96 L373.27,115.03 L384.34,113.12 L395.40,111.20 M237.76,138.34 L248.83,136.21 L259.90,134.09 L270.96,131.98 L282.03,129.88 L293.10,127.79 L304.16,125.73 L315.23,123.68 L326.30,121.66 L337.36,119.66 L348.43,117.68 L359.50,115.72 L370.56,113.78 L381.63,111.84 L392.70,109.92 L403.76,108.00 M246.12,135.54 L257.19,133.39 L268.26,131.25 L279.32,129.12 L290.39,127.00 L301.46,124.90 L312.52,122.82 L323.59,120.76 L334.66,118.72 L345.72,116.71 L356.79,114.72 L367.86,112.75 L378.92,110.79 L389.99,108.85 L401.06,106.92 L412.12,104.99 M254.48,132.99 L265.55,130.82 L276.61,128.65 L287.68,126.50 L298.75,124.36 L309.81,122.23 L320.88,120.13 L331.95,118.05 L343.01,115.99 L354.08,113.96 L365.15,111.95 L376.21,109.96 L387.28,107.99 L398.35,106.04 L409.41,104.09 L420.48,102.15 M262.84,130.71 L273.91,128.50 L284.97,126.31 L296.04,124.12 L307.11,121.95 L318.17,119.79 L329.24,117.66 L340.31,115.55 L351.37,113.47 L362.44,111.41 L373.51,109.37 L384.57,107.36 L395.64,105.36 L406.71,103.38 L417.77,101.41 L428.84,99.44 M271.20,128.70 L282.27,126.45 L293.33,124.21 L304.40,121.98 L315.47,119.76 L326.53,117.57 L337.60,115.39 L348.67,113.24 L359.73,111.12 L370.80,109.02 L381.87,106.95 L392.93,104.90 L404.00,102.86 L415.07,100.85 L426.13,98.84 L437.20,96.84 M45.50,247.40 L53.86,242.02 L62.22,236.63 L70.58,231.22 L78.94,225.79 L87.30,220.35 L95.66,214.91 L104.01,209.46 L112.37,204.03 L120.73,198.63 L129.09,193.27 L137.45,187.99 L145.81,182.80 L154.17,177.91 L162.53,173.17 L170.89,168.58 L179.25,164.15 L187.61,159.87 L195.97,155.78 L204.33,151.87 L212.69,148.16 L221.04,144.66 L229.40,141.39 L237.76,138.34 L246.12,135.54 L254.48,132.99 L262.84,130.71 L271.20,128.70 M56.57,245.30 L64.93,239.96 L73.29,234.61 L81.64,229.26 L90.00,223.89 L98.36,218.50 L106.72,213.09 L115.08,207.67 L123.44,202.25 L131.80,196.82 L140.16,191.42 L148.52,186.10 L156.88,180.89 L165.24,175.95 L173.60,171.19 L181.96,166.57 L190.31,162.11 L198.67,157.82 L207.03,153.71 L215.39,149.79 L223.75,146.07 L232.11,142.56 L240.47,139.27 L248.83,136.21 L257.19,133.39 L265.55,130.82 L273.91,128.50 L282.27,126.45 M67.63,243.20 L75.99,237.89 L84.35,232.60 L92.71,227.30 L101.07,221.98 L109.43,216.65 L117.79,211.28 L126.15,205.89 L134.51,200.47 L142.87,195.02 L151.23,189.58 L159.59,184.22 L167.94,178.97 L176.30,174.00 L184.66,169.21 L193.02,164.57 L201.38,160.09 L209.74,155.78 L218.10,151.65 L226.46,147.72 L234.82,143.99 L243.18,140.47 L251.54,137.17 L259.90,134.09 L268.26,131.25 L276.61,128.65 L284.97,126.31 L293.33,124.21 M78.70,241.10 L87.06,235.83 L95.42,230.58 L103.78,225.33 L112.14,220.08 L120.50,214.79 L128.86,209.47 L137.21,204.11 L145.57,198.69 L153.93,193.22 L162.29,187.73 L170.65,182.34 L179.01,177.06 L187.37,172.06 L195.73,167.23 L204.09,162.56 L212.45,158.06 L220.81,153.74 L229.17,149.60 L237.53,145.66 L245.89,141.91 L254.24,138.38 L262.60,135.07 L270.96,131.98 L279.32,129.12 L287.68,126.50 L296.04,124.12 L304.40,121.98 M89.77,239.00 L98.13,233.76 L106.49,228.56 L114.84,223.38 L123.20,218.18 L131.56,212.95 L139.92,207.67 L148.28,202.33 L156.64,196.92 L165.00,191.43 L173.36,185.89 L181.72,180.46 L190.08,175.15 L198.44,170.12 L206.80,165.26 L215.16,160.57 L223.51,156.05 L231.87,151.71 L240.23,147.56 L248.59,143.60 L256.95,139.85 L265.31,136.30 L273.67,132.98 L282.03,129.88 L290.39,127.00 L298.75,124.36 L307.11,121.95 L315.47,119.76 M100.83,236.89 L109.19,231.70 L117.55,226.55 L125.91,221.42 L134.27,216.28 L142.63,211.10 L150.99,205.87 L159.35,200.56 L167.71,195.16 L176.07,189.64 L184.43,184.06 L192.79,178.59 L201.14,173.26 L209.50,168.19 L217.86,163.31 L226.22,158.59 L234.58,154.05 L242.94,149.69 L251.30,145.53 L259.66,141.56 L268.02,137.80 L276.38,134.24 L284.74,130.91 L293.10,127.79 L301.46,124.90 L309.81,122.23 L318.17,119.79 L326.53,117.57 M111.90,234.79 L120.26,229.64 L128.62,224.54 L136.98,219.46 L145.34,214.38 L153.70,209.26 L162.06,204.07 L170.41,198.79 L178.77,193.40 L187.13,187.86 L195.49,182.24 L203.85,176.73 L212.21,171.37 L220.57,166.27 L228.93,161.36 L237.29,156.62 L245.65,152.06 L254.01,147.69 L262.37,143.51 L270.73,139.53 L279.09,135.76 L287.44,132.20 L295.80,128.85 L304.16,125.73 L312.52,122.82 L320.88,120.13 L329.24,117.66 L337.60,115.39 M122.97,232.69 L131.33,227.58 L139.69,222.53 L148.04,217.51 L156.40,212.49 L164.76,207.42 L173.12,202.28 L181.48,197.03 L189.84,191.65 L198.20,186.09 L206.56,180.43 L214.92,174.89 L223.28,169.50 L231.64,164.37 L240.00,159.43 L248.36,154.66 L256.71,150.09 L265.07,145.70 L273.43,141.51 L281.79,137.53 L290.15,133.75 L298.51,130.18 L306.87,126.82 L315.23,123.68 L323.59,120.76 L331.95,118.05 L340.31,115.55 L348.67,113.24 M134.03,230.59 L142.39,225.51 L150.75,220.52 L159.11,215.56 L167.47,210.60 L175.83,205.59 L184.19,200.50 L192.55,195.28 L200.91,189.90 L209.27,184.33 L217.63,178.62 L225.99,173.05 L234.34,167.63 L242.70,162.47 L251.06,157.51 L259.42,152.72 L267.78,148.13 L276.14,143.73 L284.50,139.53 L292.86,135.54 L301.22,131.75 L309.58,128.17 L317.94,124.81 L326.30,121.66 L334.66,118.72 L343.01,115.99 L351.37,113.47 L359.73,111.12 M145.10,228.49 L153.46,223.45 L161.82,218.51 L170.18,213.62 L178.54,208.72 L186.90,203.77 L195.26,198.72 L203.61,193.53 L211.97,188.17 L220.33,182.58 L228.69,176.83 L237.05,171.22 L245.41,165.78 L253.77,160.59 L262.13,155.60 L270.49,150.80 L278.85,146.19 L287.21,141.78 L295.57,137.57 L303.93,133.56 L312.29,129.77 L320.64,126.19 L329.00,122.82 L337.36,119.66 L345.72,116.71 L354.08,113.96 L362.44,111.41 L370.80,109.02 M156.17,226.38 L164.53,221.40 L172.89,216.51 L181.24,211.67 L189.60,206.84 L197.96,201.94 L206.32,196.95 L214.68,191.79 L223.04,186.44 L231.40,180.83 L239.76,175.04 L248.12,169.40 L256.48,163.94 L264.84,158.72 L273.20,153.70 L281.56,148.88 L289.91,144.26 L298.27,139.84 L306.63,135.62 L314.99,131.61 L323.35,127.81 L331.71,124.22 L340.07,120.85 L348.43,117.68 L356.79,114.72 L365.15,111.95 L373.51,109.37 L381.87,106.95 M167.23,224.28 L175.59,219.34 L183.95,214.51 L192.31,209.73 L200.67,204.96 L209.03,200.13 L217.39,195.18 L225.75,190.06 L234.11,184.72 L242.47,179.09 L250.83,173.27 L259.19,167.59 L267.54,162.11 L275.90,156.86 L284.26,151.82 L292.62,146.98 L300.98,142.34 L309.34,137.91 L317.70,133.69 L326.06,129.67 L334.42,125.87 L342.78,122.28 L351.14,118.89 L359.50,115.72 L367.86,112.75 L376.21,109.96 L384.57,107.36 L392.93,104.90 M178.30,222.18 L186.66,217.28 L195.02,212.51 L203.38,207.80 L211.74,203.08 L220.10,198.31 L228.46,193.41 L236.81,188.33 L245.17,183.00 L253.53,177.36 L261.89,171.50 L270.25,165.79 L278.61,160.29 L286.97,155.01 L295.33,149.95 L303.69,145.09 L312.05,140.44 L320.41,136.00 L328.77,131.77 L337.13,127.75 L345.49,123.94 L353.84,120.34 L362.20,116.96 L370.56,113.78 L378.92,110.79 L387.28,107.99 L395.64,105.36 L404.00,102.86 M189.37,220.08 L197.73,215.22 L206.09,210.51 L214.44,205.86 L222.80,201.21 L231.16,196.50 L239.52,191.65 L247.88,186.60 L256.24,181.29 L264.60,175.64 L272.96,169.73 L281.32,164.00 L289.68,158.47 L298.04,153.17 L306.40,148.08 L314.76,143.21 L323.11,138.54 L331.47,134.09 L339.83,129.86 L348.19,125.83 L356.55,122.02 L364.91,118.42 L373.27,115.03 L381.63,111.84 L389.99,108.85 L398.35,106.04 L406.71,103.38 L415.07,100.85 M200.43,217.98 L208.79,213.17 L217.15,208.51 L225.51,203.92 L233.87,199.34 L242.23,194.69 L250.59,189.89 L258.95,184.88 L267.31,179.58 L275.67,173.91 L284.03,167.97 L292.39,162.21 L300.74,156.66 L309.10,151.33 L317.46,146.23 L325.82,141.33 L334.18,136.66 L342.54,132.20 L350.90,127.95 L359.26,123.92 L367.62,120.11 L375.98,116.51 L384.34,113.12 L392.70,109.92 L401.06,106.92 L409.41,104.09 L417.77,101.41 L426.13,98.84 M211.50,215.88 L219.86,211.11 L228.22,206.51 L236.58,201.99 L244.94,197.47 L253.30,192.88 L261.66,188.14 L270.01,183.16 L278.37,177.87 L286.73,172.19 L295.09,166.21 L303.45,160.42 L311.81,154.85 L320.17,149.50 L328.53,144.37 L336.89,139.46 L345.25,134.77 L353.61,130.30 L361.97,126.05 L370.33,122.02 L378.69,118.20 L387.04,114.60 L395.40,111.20 L403.76,108.00 L412.12,104.99 L420.48,102.15 L428.84,99.44 L437.20,96.84" fill="none" stroke="#000" stroke-width="0.4" stroke-opacity="0.7" stroke-linejoin="round"/>
<polygon points="45.50,247.40 53.86,242.02 62.22,236.63 70.58,231.22 78.94,225.79 87.30,220.35 95.66,214.91 104.01,209.46 112.37,204.03 120.73,198.63 129.09,193.27 137.45,187.99 145.81,182.80 154.17,177.91 162.53,173.17 170.89,168.58 179.25,164.15 187.61,159.87 195.97,155.78 204.33,151.87 212.69,148.16 221.04,144.66 229.40,141.39 237.76,138.34 246.12,135.54 254.48,132.99 262.84,130.71 271.20,128.70 282.27,126.45 293.33,124.21 304.40,121.98 315.47,119.76 326.53,117.57 337.60,115.39 348.67,113.24 359.73,111.12 370.80,109.02 381.87,106.95 392.93,104.90 404.00,102.86 415.07,100.85 426.13,98.84 437.20,96.84 428.84,99.44 420.48,102.15 412.12,104.99 403.76,108.00 395.40,111.20 387.04,114.60 378.69,118.20 370.33,122.02 361.97,126.05 353.61,130.30 345.25,134.77 336.89,139.46 328.53,144.37 320.17,149.50 311.81,154.85 303.45,160.42 295.09,166.21 286.73,172.19 278.37,177.87 270.01,183.16 261.66,188.14 253.30,192.88 244.94,197.47 236.58,201.99 228.22,206.51 219.86,211.11 211.50,215.88 200.43,217.98 189.37,220.08 178.30,222.18 167.23,224.28 156.17,226.38 145.10,228.49 134.03,230.59 122.97,232.69 111.90,234.79 100.83,236.89 89.77,239.00 78.70,241.10 67.63,243.20 56.57,245.30" fill="none" stroke="#000" stroke-width="0.4" stroke-opacity="0.5" stroke-linejoin="round"/>
<polygon points="45.50,253.78 53.86,250.62 62.22,247.46 70.58,244.30 78.94,241.14 87.30,237.98 95.66,234.81 104.01,231.65 112.37,228.49 120.73,225.33 129.09,222.17 137.45,219.01 145.81,215.85 154.17,212.69 162.53,209.53 170.89,206.37 179.25,203.21 187.61,200.05 195.97,196.89 204.33,193.72 212.69,190.56 221.04,187.40 229.40,184.24 237.76,181.08 246.12,177.92 254.48,174.76 262.84,171.60 271.20,168.44 282.27,169.73 293.33,170.60 304.40,171.09 315.47,171.24 326.53,171.09 337.60,170.68 348.67,170.04 359.73,169.21 370.80,168.22 381.87,167.13 392.93,165.96 404.00,164.75 415.07,163.55 426.13,162.38 437.20,161.29 428.84,163.56 420.48,165.83 412.12,168.10 403.76,170.37 395.40,172.64 387.04,174.91 378.69,177.18 370.33,179.45 361.97,181.72 353.61,184.00 345.25,186.27 336.89,188.54 328.53,190.81 320.17,193.08 311.81,195.35 303.45,197.62 295.09,199.89 286.73,202.16 278.37,204.43 270.01,206.70 261.66,208.97 253.30,211.24 244.94,213.51 236.58,215.78 228.22,218.05 219.86,220.32 211.50,222.59 200.43,225.04 189.37,227.43 178.30,229.77 167.23,232.06 156.17,234.30 145.10,236.49 134.03,238.62 122.97,240.70 111.90,242.72 100.83,244.70 89.77,246.62 78.70,248.49 67.63,250.30 56.57,252.07" fill="#3535f2"/>
<path d="M45.50,253.78 L56.57,252.07 L67.63,250.30 L78.70,248.49 L89.77,246.62 L100.83,244.70 L111.90,242.72 L122.97,240.70 L134.03,238.62 L145.10,236.49 L156.17,234.30 L167.23,232.06 L178.30,229.77 L189.37,227.43 L200.43,225.04 L211.50,222.59 M53.86,250.62 L64.93,249.02 L75.99,247.35 L87.06,245.62 L98.13,243.83 L109.19,241.97 L120.26,240.06 L131.33,238.08 L142.39,236.05 L153.46,233.96 L164.53,231.81 L175.59,229.61 L186.66,227.37 L197.73,225.06 L208.79,222.71 L219.86,220.32 M62.22,247.46 L73.29,245.97 L84.35,244.40 L95.42,242.76 L106.49,241.04 L117.55,239.25 L128.62,237.39 L139.69,235.46 L150.75,233.48 L161.82,231.43 L172.89,229.32 L183.95,227.17 L195.02,224.96 L206.09,222.70 L217.15,220.39 L228.22,218.05 M70.58,244.30 L81.64,242.92 L92.71,241.45 L103.78,239.89 L114.84,238.24 L125.91,236.52 L136.98,234.72 L148.04,232.85 L159.11,230.91 L170.18,228.90 L181.24,226.84 L192.31,224.72 L203.38,222.55 L214.44,220.33 L225.51,218.07 L236.58,215.78 M78.94,241.14 L90.00,239.87 L101.07,238.50 L112.14,237.02 L123.20,235.45 L134.27,233.79 L145.34,232.05 L156.40,230.23 L167.47,228.33 L178.54,226.37 L189.60,224.35 L200.67,222.27 L211.74,220.14 L222.80,217.97 L233.87,215.75 L244.94,213.51 M87.30,237.98 L98.36,236.82 L109.43,235.54 L120.50,234.16 L131.56,232.66 L142.63,231.07 L153.70,229.38 L164.76,227.61 L175.83,225.76 L186.90,223.84 L197.96,221.86 L209.03,219.82 L220.10,217.73 L231.16,215.60 L242.23,213.43 L253.30,211.24 M95.66,234.81 L106.72,233.77 L117.79,232.59 L128.86,231.29 L139.92,229.87 L150.99,228.34 L162.06,226.71 L173.12,224.99 L184.19,223.19 L195.26,221.32 L206.32,219.37 L217.39,217.37 L228.46,215.32 L239.52,213.23 L250.59,211.11 L261.66,208.97 M104.01,231.65 L115.08,230.72 L126.15,229.64 L137.21,228.42 L148.28,227.08 L159.35,225.62 L170.41,224.05 L181.48,222.38 L192.55,220.62 L203.61,218.79 L214.68,216.89 L225.75,214.93 L236.81,212.92 L247.88,210.87 L258.95,208.79 L270.01,206.70 M112.37,228.49 L123.44,227.67 L134.51,226.69 L145.57,225.56 L156.64,224.29 L167.71,222.89 L178.77,221.38 L189.84,219.76 L200.91,218.05 L211.97,216.26 L223.04,214.40 L234.11,212.48 L245.17,210.51 L256.24,208.50 L267.31,206.47 L278.37,204.43 M120.73,225.33 L131.80,224.62 L142.87,223.74 L153.93,222.69 L165.00,221.49 L176.07,220.16 L187.13,218.71 L198.20,217.14 L209.27,215.48 L220.33,213.73 L231.40,211.91 L242.47,210.03 L253.53,208.10 L264.60,206.14 L275.67,204.15 L286.73,202.16 M129.09,222.17 L140.16,221.57 L151.23,220.78 L162.29,219.82 L173.36,218.70 L184.43,217.44 L195.49,216.04 L206.56,214.53 L217.63,212.91 L228.69,211.20 L239.76,209.42 L250.83,207.58 L261.89,205.69 L272.96,203.77 L284.03,201.83 L295.09,199.89 M137.45,219.01 L148.52,218.52 L159.59,217.83 L170.65,216.96 L181.72,215.91 L192.79,214.71 L203.85,213.37 L214.92,211.91 L225.99,210.34 L237.05,208.68 L248.12,206.93 L259.19,205.13 L270.25,203.28 L281.32,201.40 L292.39,199.51 L303.45,197.62 M145.81,215.85 L156.88,215.47 L167.94,214.88 L179.01,214.09 L190.08,213.12 L201.14,211.98 L212.21,210.70 L223.28,209.29 L234.34,207.77 L245.41,206.15 L256.48,204.45 L267.54,202.68 L278.61,200.88 L289.68,199.04 L300.74,197.19 L311.81,195.35 M154.17,212.69 L165.24,212.42 L176.30,211.93 L187.37,211.22 L198.44,210.33 L209.50,209.26 L220.57,208.04 L231.64,206.68 L242.70,205.20 L253.77,203.62 L264.84,201.96 L275.90,200.24 L286.97,198.47 L298.04,196.67 L309.10,194.87 L320.17,193.08 M162.53,209.53 L173.60,209.37 L184.66,208.98 L195.73,208.36 L206.80,207.54 L217.86,206.53 L228.93,205.37 L240.00,204.06 L251.06,202.63 L262.13,201.09 L273.20,199.47 L284.26,197.79 L295.33,196.06 L306.40,194.31 L317.46,192.55 L328.53,190.81 M170.89,206.37 L181.96,206.32 L193.02,206.02 L204.09,205.49 L215.16,204.74 L226.22,203.81 L237.29,202.70 L248.36,201.44 L259.42,200.06 L270.49,198.56 L281.56,196.98 L292.62,195.34 L303.69,193.65 L314.76,191.94 L325.82,190.23 L336.89,188.54 M179.25,203.21 L190.31,203.27 L201.38,203.07 L212.45,202.62 L223.51,201.95 L234.58,201.08 L245.65,200.03 L256.71,198.82 L267.78,197.48 L278.85,196.03 L289.91,194.50 L300.98,192.89 L312.05,191.24 L323.11,189.57 L334.18,187.91 L345.25,186.27 M187.61,200.05 L198.67,200.22 L209.74,200.12 L220.81,199.76 L231.87,199.16 L242.94,198.35 L254.01,197.36 L265.07,196.21 L276.14,194.91 L287.21,193.51 L298.27,192.01 L309.34,190.44 L320.41,188.84 L331.47,187.21 L342.54,185.59 L353.61,184.00 M195.97,196.89 L207.03,197.17 L218.10,197.17 L229.17,196.89 L240.23,196.37 L251.30,195.63 L262.37,194.69 L273.43,193.59 L284.50,192.34 L295.57,190.98 L306.63,189.52 L317.70,187.99 L328.77,186.43 L339.83,184.84 L350.90,183.27 L361.97,181.72 M204.33,193.72 L215.39,194.12 L226.46,194.22 L237.53,194.02 L248.59,193.58 L259.66,192.90 L270.73,192.03 L281.79,190.97 L292.86,189.77 L303.93,188.45 L314.99,187.03 L326.06,185.55 L337.13,184.02 L348.19,182.48 L359.26,180.95 L370.33,179.45 M212.69,190.56 L223.75,191.07 L234.82,191.26 L245.89,191.16 L256.95,190.79 L268.02,190.18 L279.09,189.36 L290.15,188.36 L301.22,187.20 L312.29,185.92 L323.35,184.54 L334.42,183.10 L345.49,181.61 L356.55,180.11 L367.62,178.63 L378.69,177.18 M221.04,187.40 L232.11,188.02 L243.18,188.31 L254.24,188.29 L265.31,187.99 L276.38,187.45 L287.44,186.69 L298.51,185.74 L309.58,184.63 L320.64,183.39 L331.71,182.06 L342.78,180.65 L353.84,179.20 L364.91,177.75 L375.98,176.31 L387.04,174.91 M229.40,184.24 L240.47,184.98 L251.54,185.36 L262.60,185.42 L273.67,185.20 L284.74,184.72 L295.80,184.02 L306.87,183.12 L317.94,182.06 L329.00,180.87 L340.07,179.57 L351.14,178.20 L362.20,176.79 L373.27,175.38 L384.34,173.99 L395.40,172.64 M237.76,181.08 L248.83,181.93 L259.90,182.41 L270.96,182.56 L282.03,182.41 L293.10,182.00 L304.16,181.35 L315.23,180.50 L326.30,179.49 L337.36,178.34 L348.43,177.08 L359.50,175.75 L370.56,174.39 L381.63,173.01 L392.70,171.66 L403.76,170.37 M246.12,177.92 L257.19,178.88 L268.26,179.45 L279.32,179.69 L290.39,179.62 L301.46,179.27 L312.52,178.68 L323.59,177.89 L334.66,176.92 L345.72,175.81 L356.79,174.59 L367.86,173.31 L378.92,171.98 L389.99,170.65 L401.06,169.34 L412.12,168.10 M254.48,174.76 L265.55,175.83 L276.61,176.50 L287.68,176.82 L298.75,176.83 L309.81,176.55 L320.88,176.02 L331.95,175.27 L343.01,174.35 L354.08,173.28 L365.15,172.11 L376.21,170.86 L387.28,169.57 L398.35,168.28 L409.41,167.02 L420.48,165.83 M262.84,171.60 L273.91,172.78 L284.97,173.55 L296.04,173.96 L307.11,174.04 L318.17,173.82 L329.24,173.35 L340.31,172.65 L351.37,171.78 L362.44,170.75 L373.51,169.62 L384.57,168.41 L395.64,167.16 L406.71,165.92 L417.77,164.70 L428.84,163.56 M271.20,168.44 L282.27,169.73 L293.33,170.60 L304.40,171.09 L315.47,171.24 L326.53,171.09 L337.60,170.68 L348.67,170.04 L359.73,169.21 L370.80,168.22 L381.87,167.13 L392.93,165.96 L404.00,164.75 L415.07,163.55 L426.13,162.38 L437.20,161.29 M45.50,253.78 L53.86,250.62 L62.22,247.46 L70.58,244.30 L78.94,241.14 L87.30,237.98 L95.66,234.81 L104.01,231.65 L112.37,228.49 L120.73,225.33 L129.09,222.17 L137.45,219.01 L145.81,215.85 L154.17,212.69 L162.53,209.53 L170.89,206.37 L179.25,203.21 L187.61,200.05 L195.97,196.89 L204.33,193.72 L212.69,190.56 L221.04,187.40 L229.40,184.24 L237.76,181.08 L246.12,177.92 L254.48,174.76 L262.84,171.60 L271.20,168.44 M56.57,252.07 L64.93,249.02 L73.29,245.97 L81.64,242.92 L90.00,239.87 L98.36,236.82 L106.72,233.77 L115.08,230.72 L123.44,227.67 L131.80,224.62 L140.16,221.57 L148.52,218.52 L156.88,215.47 L165.24,212.42 L173.60,209.37 L181.96,206.32 L190.31,203.27 L198.67,200.22 L207.03,197.17 L215.39,194.12 L223.75,191.07 L232.11,188.02 L240.47,184.98 L248.83,181.93 L257.19,178.88 L265.55,175.83 L273.91,172.78 L282.27,169.73 M67.63,250.30 L75.99,247.35 L84.35,244.40 L92.71,241.45 L101.07,238.50 L109.43,235.54 L117.79,232.59 L126.15,229.64 L134.51,226.69 L142.87,223.74 L151.23,220.78 L159.59,217.83 L167.94,214.88 L176.30,211.93 L184.66,208.98 L193.02,206.02 L201.38,203.07 L209.74,200.12 L218.10,197.17 L226.46,194.22 L234.82,191.26 L243.18,188.31 L251.54,185.36 L259.90,182.41 L268.26,179.45 L276.61,176.50 L284.97,173.55 L293.33,170.60 M78.70,248.49 L87.06,245.62 L95.42,242.76 L103.78,239.89 L112.14,237.02 L120.50,234.16 L128.86,231.29 L137.21,228.42 L145.57,225.56 L153.93,222.69 L162.29,219.82 L170.65,216.96 L179.01,214.09 L187.37,211.22 L195.73,208.36 L204.09,205.49 L212.45,202.62 L220.81,199.76 L229.17,196.89 L237.53,194.02 L245.89,191.16 L254.24,188.29 L262.60,185.42 L270.96,182.56 L279.32,179.69 L287.68,176.82 L296.04,173.96 L304.40,171.09 M89.77,246.62 L98.13,243.83 L106.49,241.04 L114.84,238.24 L123.20,235.45 L131.56,232.66 L139.92,229.87 L148.28,227.08 L156.64,224.29 L165.00,221.49 L173.36,218.70 L181.72,215.91 L190.08,213.12 L198.44,210.33 L206.80,207.54 L215.16,204.74 L223.51,201.95 L231.87,199.16 L240.23,196.37 L248.59,193.58 L256.95,190.79 L265.31,187.99 L273.67,185.20 L282.03,182.41 L290.39,179.62 L298.75,176.83 L307.11,174.04 L315.47,171.24 M100.83,244.70 L109.19,241.97 L117.55,239.25 L125.91,236.52 L134.27,233.79 L142.63,231.07 L150.99,228.34 L159.35,225.62 L167.71,222.89 L176.07,220.16 L184.43,217.44 L192.79,214.71 L201.14,211.98 L209.50,209.26 L217.86,206.53 L226.22,203.81 L234.58,201.08 L242.94,198.35 L251.30,195.63 L259.66,192.90 L268.02,190.18 L276.38,187.45 L284.74,184.72 L293.10,182.00 L301.46,179.27 L309.81,176.55 L318.17,173.82 L326.53,171.09 M111.90,242.72 L120.26,240.06 L128.62,237.39 L136.98,234.72 L145.34,232.05 L153.70,229.38 L162.06,226.71 L170.41,224.05 L178.77,221.38 L187.13,218.71 L195.49,216.04 L203.85,213.37 L212.21,210.70 L220.57,208.04 L228.93,205.37 L237.29,202.70 L245.65,200.03 L254.01,197.36 L262.37,194.69 L270.73,192.03 L279.09,189.36 L287.44,186.69 L295.80,184.02 L304.16,181.35 L312.52,178.68 L320.88,176.02 L329.24,173.35 L337.60,170.68 M122.97,240.70 L131.33,238.08 L139.69,235.46 L148.04,232.85 L156.40,230.23 L164.76,227.61 L173.12,224.99 L181.48,222.38 L189.84,219.76 L198.20,217.14 L206.56,214.53 L214.92,211.91 L223.28,209.29 L231.64,206.68 L240.00,204.06 L248.36,201.44 L256.71,198.82 L265.07,196.21 L273.43,193.59 L281.79,190.97 L290.15,188.36 L298.51,185.74 L306.87,183.12 L315.23,180.50 L323.59,177.89 L331.95,175.27 L340.31,172.65 L348.67,170.04 M134.03,238.62 L142.39,236.05 L150.75,233.48 L159.11,230.91 L167.47,228.33 L175.83,225.76 L184.19,223.19 L192.55,220.62 L200.91,218.05 L209.27,215.48 L217.63,212.91 L225.99,210.34 L234.34,207.77 L242.70,205.20 L251.06,202.63 L259.42,200.06 L267.78,197.48 L276.14,194.91 L284.50,192.34 L292.86,189.77 L301.22,187.20 L309.58,184.63 L317.94,182.06 L326.30,179.49 L334.66,176.92 L343.01,174.35 L351.37,171.78 L359.73,169.21 M145.10,236.49 L153.46,233.96 L161.82,231.43 L170.18,228.90 L178.54,226.37 L186.90,223.84 L195.26,221.32 L203.61,218.79 L211.97,216.26 L220.33,213.73 L228.69,211.20 L237.05,208.68 L245.41,206.15 L253.77,203.62 L262.13,201.09 L270.49,198.56 L278.85,196.03 L287.21,193.51 L295.57,190.98 L303.93,188.45 L312.29,185.92 L320.64,183.39 L329.00,180.87 L337.36,178.34 L345.72,175.81 L354.08,173.28 L362.44,170.75 L370.80,168.22 M156.17,234.30 L164.53,231.81 L172.89,229.32 L181.24,226.84 L189.60,224.35 L197.96,221.86 L206.32,219.37 L214.68,216.89 L223.04,214.40 L231.40,211.91 L239.76,209.42 L248.12,206.93 L256.48,204.45 L264.84,201.96 L273.20,199.47 L281.56,196.98 L289.91,194.50 L298.27,192.01 L306.63,189.52 L314.99,187.03 L323.35,184.54 L331.71,182.06 L340.07,179.57 L348.43,177.08 L356.79,174.59 L365.15,172.11 L373.51,169.62 L381.87,167.13 M167.23,232.06 L175.59,229.61 L183.95,227.17 L192.31,224.72 L200.67,222.27 L209.03,219.82 L217.39,217.37 L225.75,214.93 L234.11,212.48 L242.47,210.03 L250.83,207.58 L259.19,205.13 L267.54,202.68 L275.90,200.24 L284.26,197.79 L292.62,195.34 L300.98,192.89 L309.34,190.44 L317.70,187.99 L326.06,185.55 L334.42,183.10 L342.78,180.65 L351.14,178.20 L359.50,175.75 L367.86,173.31 L376.21,170.86 L384.57,168.41 L392.93,165.96 M178.30,229.77 L186.66,227.37 L195.02,224.96 L203.38,222.55 L211.74,220.14 L220.10,217.73 L228.46,215.32 L236.81,212.92 L245.17,210.51 L253.53,208.10 L261.89,205.69 L270.25,203.28 L278.61,200.88 L286.97,198.47 L295.33,196.06 L303.69,193.65 L312.05,191.24 L320.41,188.84 L328.77,186.43 L337.13,184.02 L345.49,181.61 L353.84,179.20 L362.20,176.79 L370.56,174.39 L378.92,171.98 L387.28,169.57 L395.64,167.16 L404.00,164.75 M189.37,227.43 L197.73,225.06 L206.09,222.70 L214.44,220.33 L222.80,217.97 L231.16,215.60 L239.52,213.23 L247.88,210.87 L256.24,208.50 L264.60,206.14 L272.96,203.77 L281.32,201.40 L289.68,199.04 L298.04,196.67 L306.40,194.31 L314.76,191.94 L323.11,189.57 L331.47,187.21 L339.83,184.84 L348.19,182.48 L356.55,180.11 L364.91,177.75 L373.27,175.38 L381.63,173.01 L389.99,170.65 L398.35,168.28 L406.71,165.92 L415.07,163.55 M200.43,225.04 L208.79,222.71 L217.15,220.39 L225.51,218.07 L233.87,215.75 L242.23,213.43 L250.59,211.11 L258.95,208.79 L267.31,206.47 L275.67,204.15 L284.03,201.83 L292.39,199.51 L300.74,197.19 L309.10,194.87 L317.46,192.55 L325.82,190.23 L334.18,187.91 L342.54,185.59 L350.90,183.27 L359.26,180.95 L367.62,178.63 L375.98,176.31 L384.34,173.99 L392.70,171.66 L401.06,169.34 L409.41,167.02 L417.77,164.70 L426.13,162.38 M211.50,222.59 L219.86,220.32 L228.22,218.05 L236.58,215.78 L244.94,213.51 L253.30,211.24 L261.66,208.97 L270.01,206.70 L278.37,204.43 L286.73,202.16 L295.09,199.89 L303.45,197.62 L311.81,195.35 L320.17,193.08 L328.53,190.81 L336.89,188.54 L345.25,186.27 L353.61,184.00 L361.97,181.72 L370.33,179.45 L378.69,177.18 L387.04,174.91 L395.40,172.64 L403.76,170.37 L412.12,168.10 L420.48,165.83 L428.84,163.56 L437.20,161.29" fill="none" stroke="#000" stroke-width="0.38" stroke-opacity="0.7" stroke-linejoin="round"/>
<polygon points="45.50,253.78 53.86,250.62 62.22,247.46 70.58,244.30 78.94,241.14 87.30,237.98 95.66,234.81 104.01,231.65 112.37,228.49 120.73,225.33 129.09,222.17 137.45,219.01 145.81,215.85 154.17,212.69 162.53,209.53 170.89,206.37 179.25,203.21 187.61,200.05 195.97,196.89 204.33,193.72 212.69,190.56 221.04,187.40 229.40,184.24 237.76,181.08 246.12,177.92 254.48,174.76 262.84,171.60 271.20,168.44 282.27,169.73 293.33,170.60 304.40,171.09 315.47,171.24 326.53,171.09 337.60,170.68 348.67,170.04 359.73,169.21 370.80,168.22 381.87,167.13 392.93,165.96 404.00,164.75 415.07,163.55 426.13,162.38 437.20,161.29 428.84,163.56 420.48,165.83 412.12,168.10 403.76,170.37 395.40,172.64 387.04,174.91 378.69,177.18 370.33,179.45 361.97,181.72 353.61,184.00 345.25,186.27 336.89,188.54 328.53,190.81 320.17,193.08 311.81,195.35 303.45,197.62 295.09,199.89 286.73,202.16 278.37,204.43 270.01,206.70 261.66,208.97 253.30,211.24 244.94,213.51 236.58,215.78 228.22,218.05 219.86,220.32 211.50,222.59 200.43,225.04 189.37,227.43 178.30,229.77 167.23,232.06 156.17,234.30 145.10,236.49 134.03,238.62 122.97,240.70 111.90,242.72 100.83,244.70 89.77,246.62 78.70,248.49 67.63,250.30 56.57,252.07" fill="none" stroke="#000" stroke-width="0.4" stroke-opacity="0.55" stroke-linejoin="round"/></g>
</svg>
<div class="box" id="title"><span style="left:51.3px;top:6.3px;transform-origin:0 0;transform:scaleX(0.909)">Diffusion Ratio (% vs no Treatment) HFNT compared with CPAP plus added O<sub style="font-size:7px">2</sub></span></div>
<div class="box" id="ylab"><span style="left:7.3px;top:161px;transform-origin:0 0;transform:rotate(-90deg) scaleX(0.918)">Diffusion Ratio (%) vs Untreated</span></div>
<div class="box" id="xlab"><span style="left:6px;top:6.7px;transform-origin:0 0;transform:scaleX(0.924)">O<sub style="font-size:7px">2</sub> Flow Added (1 – 30 LPM)</span></div>
<div class="box" id="clab"><span style="left:12px;top:6.6px;transform-origin:0 0;transform:scaleX(0.893)">CPAP(cm H2O) or Total Flow (LPM)</span></div>
<div id="legend">
<div class="sw" style="top:2.0px;background:#ec2f2f"></div><div class="lt" style="top:2.8px">CPAP with O<sub>2</sub> added at the Mask</div>
<div class="sw" style="top:8.0px;background:#eab000"></div><div class="lt" style="top:8.5px">HFNT</div>
<div class="sw" style="top:13.6px;background:#2a2af0"></div><div class="lt" style="top:14.4px">CPAP with O<sub>2</sub> added at the Back of Machine</div>
</div>
</body></html>
